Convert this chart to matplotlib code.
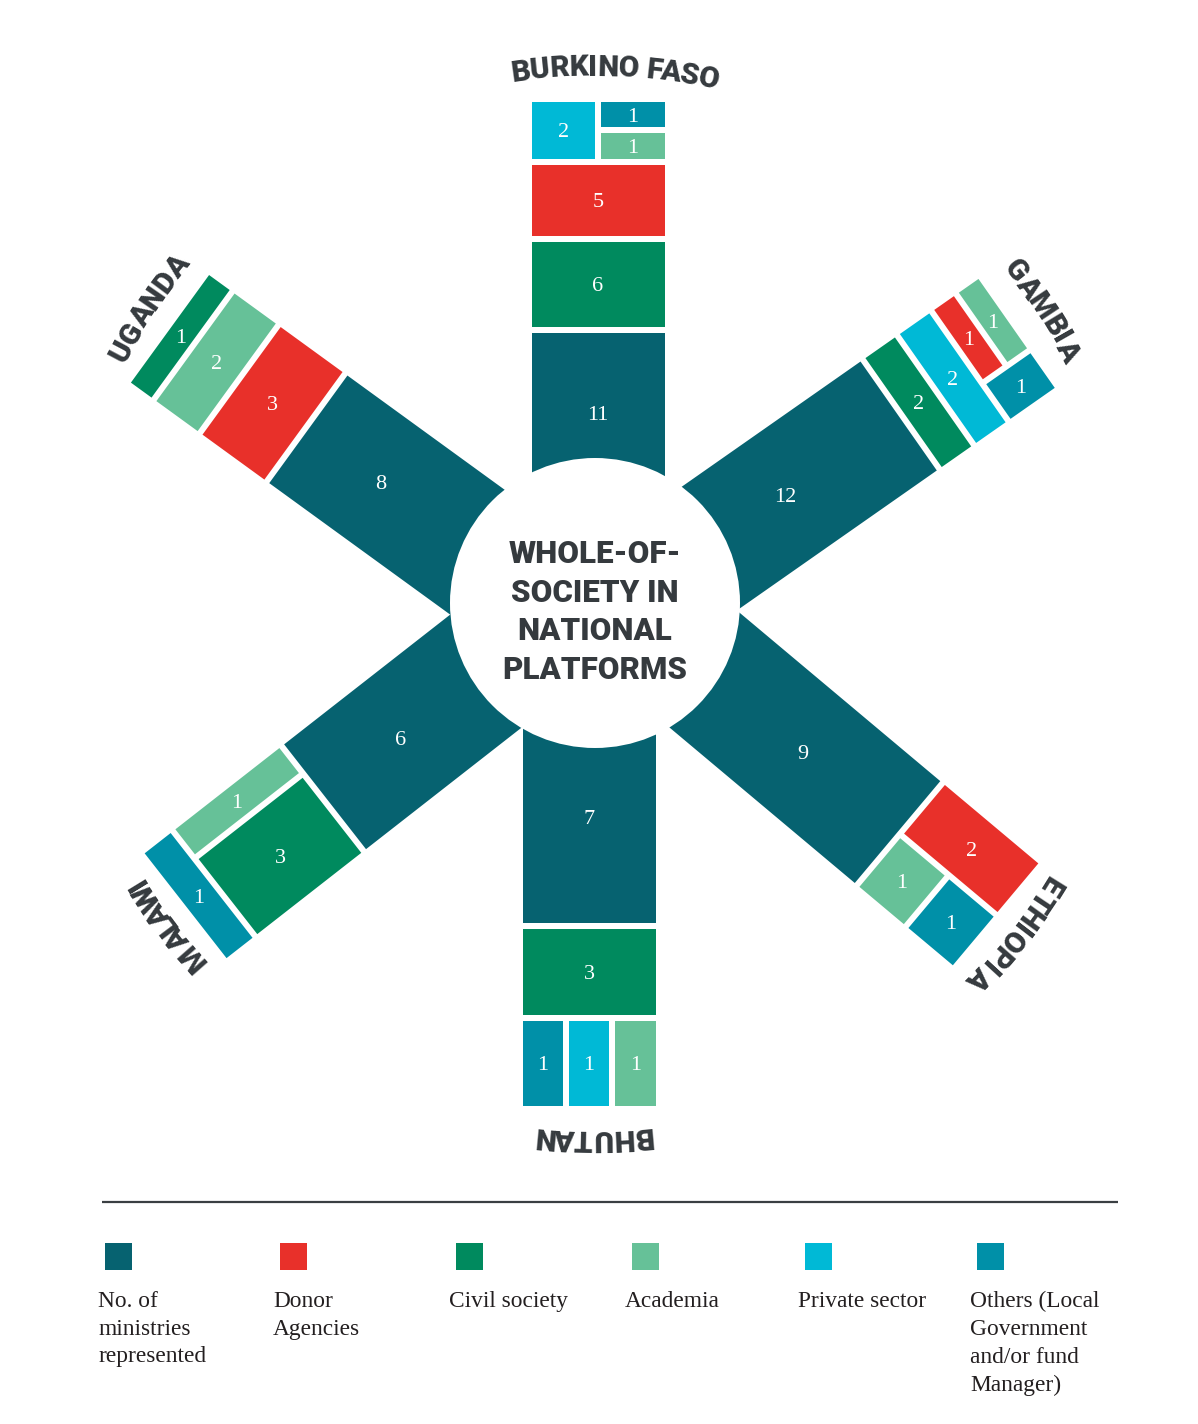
import numpy as np
import matplotlib
matplotlib.use("Agg")
import matplotlib.pyplot as plt
from matplotlib.patches import Polygon, Circle, Rectangle
from matplotlib.font_manager import FontProperties

# ---------------- data ----------------
countries = ["BURKINO FASO", "GAMBIA", "ETHIOPIA", "BHUTAN", "MALAWI", "UGANDA"]
keys = ["ministries", "donor", "civil", "academia", "private", "others"]
legend_labels = ["No. of\nministries\nrepresented", "Donor\nAgencies", "Civil society",
                 "Academia", "Private sector", "Others (Local\nGovernment\nand/or fund\nManager)"]
ministries = [11, 12, 9, 7, 6, 8]
donor      = [5, 1, 2, 0, 0, 3]
civil      = [6, 2, 0, 3, 3, 1]
academia   = [1, 1, 1, 1, 1, 2]
private    = [2, 2, 0, 1, 0, 0]
others     = [1, 1, 1, 1, 1, 0]
center_title = "WHOLE-OF-\nSOCIETY IN\nNATIONAL\nPLATFORMS"

values = {"ministries": ministries, "donor": donor, "civil": civil,
          "academia": academia, "private": private, "others": others}

# ---------------- styles / layout ----------------
colors = {"ministries": "#066270", "donor": "#e8302a", "civil": "#008a5e",
          "academia": "#66c198", "private": "#00b9d6", "others": "#0090a8"}
# arm geometry: angle (deg), lateral offset, outer radius, length per unit,
# row arrangement of the tail blocks, label lateral shift, main number position
arms = {
    "BURKINO FASO": dict(ang=90, off=-3, rout=501, unit=14.2,
                         rows=[[["civil"]], [["donor"]], [["private"], ["academia", "others"]]],
                         lv=-20, nu=190),
    "GAMBIA": dict(ang=35, off=-21, rout=500, unit=18.0,
                   rows=[[["civil"]], [["private"]], [["donor", "academia"], ["others"]]],
                   lv=-17, nu=218),
    "ETHIOPIA": dict(ang=-40, off=19, rout=507, unit=30.5,
                     rows=[[["donor"], ["academia", "others"]]], lv=17, nu=255),
    "BHUTAN": dict(ang=-90, off=-6, rout=503, unit=28.5,
                   rows=[[["civil"]], [["academia"], ["private"], ["others"]]], lv=-2, nu=214),
    "MALAWI": dict(ang=218, off=-13.5, rout=509, unit=33.0,
                   rows=[[["civil"], ["academia"]], [["others"]]], lv=-11, nu=236),
    "UGANDA": dict(ang=144, off=28, rout=505, unit=25.5,
                   rows=[[["donor"]], [["academia"]], [["civil"]]], lv=24, nu=244),
}
CX, CY, RC = 595, 603, 145
W, GAP = 133, 6
TEXT_DARK = "#353a3e"
SANS = ["Roboto", "DejaVu Sans"]
SERIF = ["Liberation Serif", "DejaVu Serif"]
KERN = {"LA": -6, "AW": -2, "WA": -2, "FA": -3, "TA": -2, "PA": -2}

fig = plt.figure(figsize=(11.98, 14.24), dpi=100)
ax = fig.add_axes([0, 0, 1, 1])
ax.set_xlim(0, 1198)
ax.set_ylim(1424, 0)
ax.axis("off")


def frame(ang, off):
    t = np.radians(ang)
    d = np.array([np.cos(t), -np.sin(t)])
    n = np.array([-np.sin(t), -np.cos(t)])
    c = np.array([CX, CY])
    return lambda u, v: c + u * d + v * n


def block(P, u0, u1, v0, v1, color, label, num_u=None):
    pts = [P(u0, v0), P(u1, v0), P(u1, v1), P(u0, v1)]
    ax.add_patch(Polygon(pts, closed=True, facecolor=color, edgecolor="none", zorder=2))
    uc = (u0 + u1) / 2 if num_u is None else num_u
    x, y = P(uc, (v0 + v1) / 2)
    ax.text(x, y, str(label), color="white", fontsize=16, family=SERIF,
            ha="center", va="center_baseline", zorder=5)


for i, country in enumerate(countries):
    a = arms[country]
    P = frame(a["ang"], a["off"])
    off = a["off"]
    rows = a["rows"]
    row_sums = [sum(values[k][i] for col in row for k in col) for row in rows]
    row_lens = [s * a["unit"] for s in row_sums]
    main_end = a["rout"] - sum(row_lens) - GAP * len(rows)
    block(P, 0, main_end, off - W / 2, off + W / 2, colors["ministries"],
          ministries[i], num_u=a["nu"])
    u = main_end + GAP
    for row, L in zip(rows, row_lens):
        col_sums = [sum(values[k][i] for k in col) for col in row]
        avail_w = W - GAP * (len(row) - 1)
        v_top = off + W / 2
        for col, cs in zip(row, col_sums):
            cw = avail_w * cs / sum(col_sums)
            avail_l = L - GAP * (len(col) - 1)
            uu = u
            for k in col:
                bl = avail_l * values[k][i] / cs
                block(P, uu, uu + bl, v_top - cw, v_top, colors[k], values[k][i])
                uu += bl + GAP
            v_top -= cw + GAP
        u += L + GAP

# white central disc and title
ax.add_patch(Circle((CX, CY), RC, facecolor="white", edgecolor="none", zorder=3))
ax.text(CX, 612, center_title, ha="center", va="center", multialignment="center",
        fontsize=22.5, fontweight="heavy", family=SANS, color=TEXT_DARK,
        linespacing=1.36, zorder=6)

# curved country labels
renderer = fig.canvas.get_renderer()
fp = FontProperties(family=SANS, weight="heavy", size=21.5)


def raw_w(s):
    if not s:
        return 0.0
    w, h, d = renderer.get_text_width_height_descent(s, fp, ismath=False)
    return w


SPACE_W = raw_w("H H") - raw_w("HH")


def text_w(s):
    core = s.rstrip(" ")
    return raw_w(core) + SPACE_W * (len(s) - len(core))


for country in countries:
    a = arms[country]
    ul, vl = 535, a["lv"]
    R = np.hypot(ul, vl)
    phi0 = np.radians(a["ang"]) + np.arctan2(vl, ul)
    shifts = [0.0]
    for j in range(1, len(country)):
        shifts.append(shifts[-1] + KERN.get(country[j - 1:j + 1], 0))
    total = text_w(country) + shifts[-1]
    for j, ch in enumerate(country):
        if ch == " ":
            continue
        s = (text_w(country[:j]) + text_w(country[:j + 1])) / 2 + shifts[j] - total / 2
        phi = phi0 - s / R
        x = CX + R * np.cos(phi)
        y = CY - R * np.sin(phi)
        ax.text(x, y, ch, fontproperties=fp, color=TEXT_DARK, ha="center", va="center",
                rotation=np.degrees(phi) - 90, rotation_mode="anchor", zorder=6)

# legend
ax.plot([102, 1118], [1202, 1202], color="#3a3f42", lw=1.6, solid_capstyle="butt")
leg_x = [98, 273, 449, 625, 798, 970]
for k, lab, x in zip(keys, legend_labels, leg_x):
    ax.add_patch(Rectangle((x + 7, 1243), 27, 27, facecolor=colors[k], edgecolor="none"))
    ax.text(x, 1291, lab, ha="left", va="top", fontsize=16.8, family=SERIF,
            color="#231f20", linespacing=1.42)

fig.savefig("out.png", dpi=100, facecolor="white")
